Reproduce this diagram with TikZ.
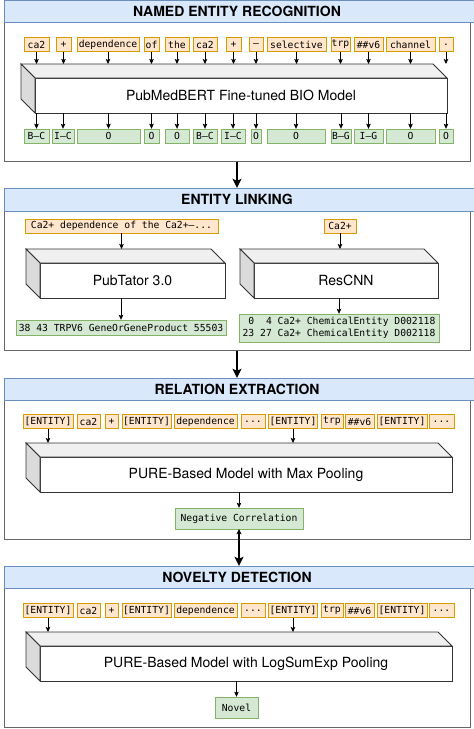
\documentclass[tikz,border=0pt]{standalone}
\usepackage{fontspec}
\setmainfont{TeX Gyre Heros}
\newfontfamily\codefont{DejaVu Sans Mono}
\usetikzlibrary{arrows.meta,positioning}

\definecolor{hdrfill}{HTML}{DAE8FC}
\definecolor{hdrline}{HTML}{6C8EBF}
\definecolor{tokfill}{HTML}{FFE6CC}
\definecolor{tokline}{HTML}{D79B00}
\definecolor{tagfill}{HTML}{D5E8D4}
\definecolor{tagline}{HTML}{82B366}
\definecolor{laneline}{HTML}{666666}
\definecolor{modelline}{HTML}{333333}

\newcommand{\tokdots}{...}

\tikzset{
  lane/.style={draw=laneline, line width=1pt, fill=white, inner sep=0pt},
  hdr/.style={draw=hdrline, fill=hdrfill, inner sep=0pt},
  title/.style={font=\bfseries\fontsize{14}{16}\selectfont},
  tok/.style={draw=tokline, fill=tokfill, font=\codefont\fontsize{9.7}{12}\selectfont,
    inner xsep=1pt, inner ysep=0pt, minimum height=14pt},
  tag/.style={draw=tagline, fill=tagfill, font=\codefont\fontsize{9.7}{12}\selectfont,
    inner xsep=1pt, inner ysep=0pt, minimum height=14pt},
  model/.style={draw=modelline, fill=white, line width=0.8pt, outer sep=0pt,
    inner sep=0pt, font=\fontsize{14}{16}\selectfont},
  modeltop/.style={draw=modelline, line width=0.8pt, fill=black!6},
  modelside/.style={draw=modelline, line width=0.8pt, fill=black!14},
  arr/.style={-{Stealth[length=5pt,width=4.5pt,inset=1pt]}, line width=0.7pt},
  flow/.style={-{Stealth[length=9pt,width=9pt,inset=2pt]}, line width=1.5pt},
}

% model block: name, x, y, width, height, text
\newcommand{\modelblock}[6]{%
  \node[model, minimum width=#4, minimum height=#5] (#1) at (#2,#3) {#6};
  \draw[modeltop] (#1.north west) -- ++(-14,-14) -- ([shift={(-14,-14)}]#1.north east)
    -- (#1.north east) -- cycle;
  \draw[modelside] (#1.north west) -- ++(-14,-14) -- ([shift={(-14,-14)}]#1.south west)
    -- (#1.south west) -- cycle;
  \coordinate (#1back) at ([shift={(-14,-14)}]#1.north west);
}

\begin{document}
\begin{tikzpicture}[x=1pt,y=-1pt]
\useasboundingbox (0,0) rectangle (474,729);

% lanes
\node[lane, minimum width=466pt, minimum height=139pt] (ner) at (237,91.5) {};
\node[hdr, minimum width=476pt, minimum height=22pt] (nerhead) at (242,11) {};
\node[title] (nertitle) at (237,11) {NAMED ENTITY RECOGNITION};

\node[lane, minimum width=466pt, minimum height=139pt] (el) at (237,280.5) {};
\node[hdr, minimum width=476pt, minimum height=23pt] (elhead) at (242,199.5) {};
\node[title] (eltitle) at (237,199.5) {ENTITY LINKING};

\node[lane, minimum width=466pt, minimum height=139pt] (re) at (237,469.5) {};
\node[hdr, minimum width=476pt, minimum height=22pt] (rehead) at (242,389) {};
\node[title] (retitle) at (237,389) {RELATION EXTRACTION};

\node[lane, minimum width=466pt, minimum height=139pt] (nd) at (237,658) {};
\node[hdr, minimum width=476pt, minimum height=22pt] (ndhead) at (242,577) {};
\node[title] (ndtitle) at (237,577) {NOVELTY DETECTION};

% named entity recognition
\modelblock{bert}{241}{95.5}{412pt}{35pt}{PubMedBERT Fine-tuned BIO Model}
\foreach \xa/\xb/\txt [count=\i] in {24/49/ca2, 56/71/+, 77/139/dependence, 144/159/of,
    165/189/the, 193/217/ca2, 226/241/+, 249/263/–, 267/326/selective, 331/350/trp,
    354/383/\#\#v6, 386/435/channel, 439/453/.}
{
  \node[tok, minimum width=\xb-\xa] (w\i) at ({(\xa+\xb)/2},44.5) {\txt};
  \draw[arr] (w\i) -- (w\i |- bertback);
}
\foreach \xa/\xb/\txt [count=\i] in {24/49/B–C, 52/74/I–C, 77/140/O, 144/159/O,
    165/189/O, 193/217/B–C, 221/245/I–C, 251/261/O, 267/325/O, 331/351/B–G,
    354/383/I–G, 386/435/O, 439/453/O}
{
  \node[tag, minimum width=\xb-\xa] (g\i) at ({(\xa+\xb)/2},136) {\txt};
  \draw[arr] (g\i |- bert.south) -- (g\i);
}

% entity linking
\node[tok, minimum width=193pt] (sent) at (121.5,226) {Ca2+ dependence of the Ca2+–...};
\node[tok, minimum width=32pt] (ment) at (340,226) {Ca2+};
\modelblock{pubtator}{132.5}{280.5}{185pt}{35pt}{PubTator 3.0}
\modelblock{rescnn}{346}{280.5}{184pt}{35pt}{ResCNN}
\node[tag, minimum width=210pt, minimum height=15pt] (pubout) at (121,327.5)
  {38 43 TRPV6 GeneOrGeneProduct 55503};
\node[tag, minimum width=200pt, minimum height=28pt, align=left] (resout) at (339,328)
  {\hphantom{2}0\hphantom{22}4 Ca2+ ChemicalEntity D002118\\23 27 Ca2+ ChemicalEntity D002118};
\draw[arr] (sent) -- (sent |- pubtatorback);
\draw[arr] (ment) -- (ment |- rescnnback);
\draw[arr] (pubout |- pubtator.south) -- (pubout);
\draw[arr] (resout |- rescnn.south) -- (resout);

% relation extraction
\modelblock{pure}{246}{474.5}{412pt}{35pt}{PURE-Based Model with Max Pooling}
\foreach \xa/\xb/\txt [count=\i] in {23/73/[ENTITY], 77/100/ca2, 105/118/+, 122/171/[ENTITY],
    174/237/dependence, 241/265/\tokdots, 269/317/[ENTITY], 321/343/trp, 345/374/\#\#v6,
    377/427/[ENTITY], 429/454/\tokdots}
  \node[tok, minimum width=\xb-\xa] (r\i) at ({(\xa+\xb)/2},421.5) {\txt};
\node[tag, minimum width=128pt, minimum height=21pt] (negcor) at (239,518.5) {Negative Correlation};
\draw[arr] (r1) -- (r1 |- pureback);
\draw[arr] (r7) -- (r7 |- pureback);
\draw[arr] (negcor |- pure.south) -- (negcor);

% novelty detection
\modelblock{lse}{246}{663.5}{412pt}{35pt}{PURE-Based Model with LogSumExp Pooling}
\foreach \xa/\xb/\txt [count=\i] in {23/73/[ENTITY], 77/100/ca2, 105/118/+, 122/171/[ENTITY],
    174/237/dependence, 241/265/\tokdots, 269/317/[ENTITY], 321/343/trp, 345/374/\#\#v6,
    377/427/[ENTITY], 429/454/\tokdots}
  \node[tok, minimum width=\xb-\xa] (d\i) at ({(\xa+\xb)/2},610.5) {\txt};
\node[tag, minimum width=43pt, minimum height=21pt] (novel) at (236.5,707.5) {Novel};
\draw[arr] (d1) -- (d1 |- lseback);
\draw[arr] (d7) -- (d7 |- lseback);
\draw[arr] (novel |- lse.south) -- (novel);

% between stages
\draw[flow] (ner.south) -- (ner.south |- elhead.north);
\draw[flow] (el.south) -- (el.south |- rehead.north);
\draw[{Stealth[length=5pt,width=5pt,inset=1pt]}-{Stealth[length=9pt,width=9pt,inset=2pt]},
  line width=1.5pt] (negcor) -- (negcor |- ndhead.north);
\end{tikzpicture}
\end{document}
